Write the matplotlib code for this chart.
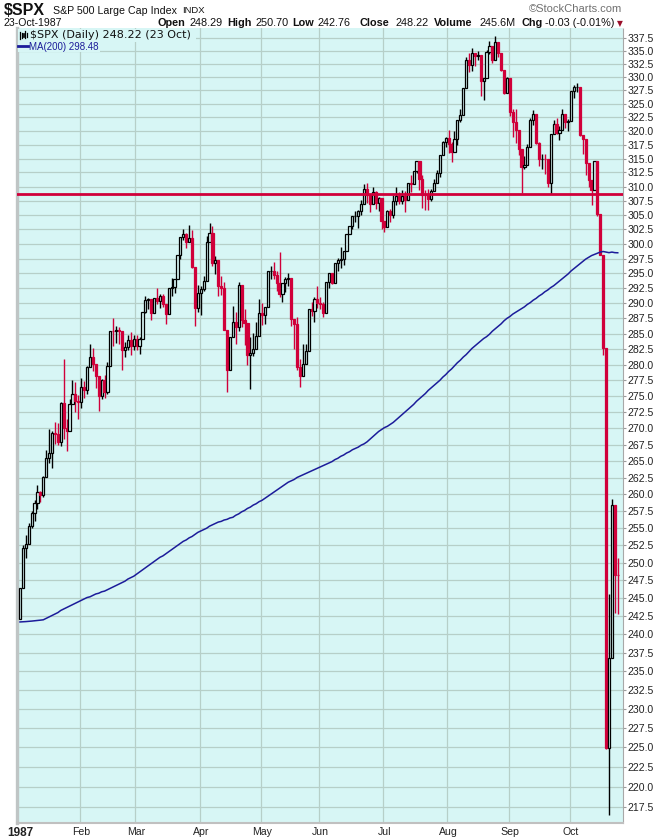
import matplotlib
matplotlib.use("Agg")
import matplotlib.pyplot as plt
from matplotlib.lines import Line2D
from matplotlib.patches import Rectangle
from matplotlib.ticker import FixedLocator, NullLocator
import numpy as np

# ---------------- data (S&P 500 daily, 2 Jan 1987 - 23 Oct 1987) ----------------
closes = [
    246.45, 252.19, 252.78, 255.33, 257.28, 258.73, 260.30, 259.95, 262.64, 265.49,
    266.28, 269.34, 269.04, 267.84, 273.91, 270.10, 269.61, 273.75, 275.40, 274.24,
    274.08,
    276.45, 275.99, 279.64, 281.16, 280.04, 278.16, 275.07, 277.54, 275.62, 279.70,
    285.49, 285.42, 285.57, 285.48, 282.38, 282.88, 284.00, 282.96, 284.20,
    283.00, 284.12, 288.62, 290.52, 290.66, 288.30, 290.86, 290.31, 291.22, 289.89,
    288.23, 292.47, 292.78, 294.08, 298.17, 301.16, 301.64, 300.38, 300.93, 296.13,
    289.20, 291.70,
    292.39, 293.63, 300.41, 301.95, 296.69, 297.26, 292.86, 292.49, 285.62, 279.16,
    284.44, 286.91, 286.09, 293.07, 287.19, 286.82, 281.52, 281.83, 282.51, 284.57,
    288.36,
    288.03, 289.36, 295.34, 295.47, 294.71, 293.37, 291.57, 293.30, 293.98, 294.24,
    287.43, 286.65, 279.62, 278.21, 280.17, 282.16, 289.11, 288.73, 290.76, 290.10,
    289.83, 288.46, 293.47, 295.09, 293.45, 296.72, 297.28, 297.47, 298.73, 301.62,
    303.14, 304.76, 304.81, 305.69, 306.97, 309.65, 308.43, 306.86, 308.96, 307.16,
    307.90, 304.00,
    302.94, 305.63, 304.92, 307.40, 308.29, 307.52, 308.37, 307.63, 310.68, 310.42,
    312.70, 314.59, 311.39, 308.55, 308.47, 307.81, 309.27, 310.65, 312.33, 315.65,
    318.05, 318.66,
    317.57, 316.23, 318.45, 322.10, 323.00, 328.00, 333.33, 332.39, 334.65, 333.99,
    334.11, 329.25, 329.83, 334.84, 335.90, 333.33, 336.77, 334.57, 331.38, 327.04,
    329.80,
    323.40, 321.68, 320.21, 316.70, 313.56, 313.92, 317.13, 321.98, 323.08, 317.74,
    314.86, 314.93, 314.86, 310.54, 319.50, 321.19, 319.72, 320.16, 323.20, 321.69,
    321.83,
    327.33, 328.07, 328.08, 319.22, 318.54, 314.16, 311.07, 309.39, 314.52, 305.23,
    298.08, 282.70, 224.84, 236.83, 258.38, 248.25, 248.22,
]

opens = [
    242.17, 246.45, 252.19, 252.78, 255.33, 257.28, 258.73, 260.30, 259.95, 262.64,
    265.49, 266.28, 269.34, 269.04, 267.84, 273.91, 270.10, 269.61, 273.75, 275.40,
    274.24,
    274.08, 276.45, 275.99, 279.64, 281.16, 280.04, 278.16, 275.07, 277.54, 275.62,
    279.70, 285.49, 285.42, 285.57, 285.48, 282.38, 282.88, 284.00, 282.96,
    284.20, 283.00, 284.12, 288.62, 290.52, 290.66, 288.30, 290.86, 290.31, 291.22,
    289.89, 288.23, 292.47, 292.78, 294.08, 298.17, 301.16, 301.64, 300.38, 300.93,
    296.13, 289.20,
    291.70, 292.39, 293.63, 300.41, 301.95, 296.69, 297.26, 292.86, 292.49, 285.62,
    279.16, 284.44, 286.91, 286.09, 293.07, 287.19, 286.82, 281.52, 281.83, 282.51,
    284.57,
    288.36, 288.03, 289.36, 295.34, 295.47, 294.71, 293.37, 291.57, 293.30, 293.98,
    294.24, 287.43, 286.65, 279.62, 278.21, 280.17, 282.16, 289.11, 288.73, 290.76,
    290.10, 289.83, 288.46, 293.47, 295.09, 293.45, 296.72, 297.28, 297.47, 298.73,
    301.62, 303.14, 304.76, 304.81, 305.69, 306.97, 309.65, 308.43, 306.86, 308.96,
    307.16, 307.90,
    304.00, 302.94, 305.63, 304.92, 307.40, 308.29, 307.52, 308.37, 307.63, 310.68,
    310.42, 312.70, 314.59, 311.39, 308.55, 308.47, 307.81, 309.27, 310.65, 312.33,
    315.65, 318.05,
    318.66, 317.57, 316.23, 318.45, 322.10, 323.00, 328.00, 333.33, 332.39, 334.65,
    333.99, 334.11, 329.25, 329.83, 334.84, 335.90, 333.33, 336.77, 334.57, 331.38,
    327.04,
    329.80, 323.40, 321.68, 320.21, 316.70, 313.56, 313.92, 317.13, 321.98, 323.08,
    317.74, 314.86, 314.93, 314.86, 310.54, 319.50, 321.19, 319.72, 320.16, 323.20,
    321.69,
    321.83, 327.33, 328.07, 328.08, 319.22, 318.54, 314.16, 311.07, 309.39, 314.52,
    305.23, 298.08, 282.70, 224.84, 236.83, 258.38, 248.29,
]

highs = [
    246.50, 252.57, 253.99, 255.72, 257.50, 259.20, 261.45, 260.45, 262.72, 266.68,
    269.86, 269.50, 271.03, 270.87, 274.05, 280.96, 271.50, 274.59, 277.55, 277.17,
    275.20,
    277.83, 277.35, 279.70, 283.33, 282.60, 280.04, 278.16, 277.72, 278.36, 280.35,
    285.49, 287.60, 286.24, 286.09, 285.48, 283.58, 284.80, 285.29, 284.83,
    284.83, 284.50, 288.62, 291.24, 290.94, 290.66, 290.86, 292.50, 291.59, 291.50,
    289.89, 292.47, 294.17, 294.08, 298.17, 301.17, 302.57, 301.86, 303.25, 302.34,
    296.13, 293.00,
    292.80, 294.47, 301.30, 303.65, 303.00, 297.95, 297.26, 294.61, 293.46, 285.62,
    284.44, 289.60, 288.50, 293.46, 293.07, 289.00, 286.82, 284.50, 285.16, 286.88,
    290.65,
    289.99, 289.36, 295.34, 296.19, 296.98, 295.40, 298.61, 293.30, 294.32, 295.09,
    294.24, 287.43, 287.68, 280.94, 283.33, 283.34, 289.11, 290.17, 291.00, 292.87,
    291.00, 290.28, 293.47, 295.11, 295.09, 296.72, 297.59, 299.49, 298.73, 301.62,
    303.14, 304.76, 305.65, 305.84, 307.63, 310.39, 310.60, 308.43, 309.99, 309.25,
    308.18, 307.90,
    304.00, 305.88, 306.00, 308.50, 309.84, 309.00, 309.30, 309.20, 310.68, 312.08,
    312.83, 314.59, 314.59, 312.00, 309.45, 309.55, 309.56, 311.28, 313.00, 315.65,
    318.24, 318.98,
    320.20, 317.99, 319.96, 322.10, 324.08, 328.00, 333.86, 334.57, 335.52, 334.65,
    335.00, 334.11, 329.83, 335.19, 336.95, 335.90, 337.89, 336.77, 334.57, 331.38,
    329.99,
    329.80, 324.00, 323.97, 320.21, 316.70, 315.41, 317.60, 322.45, 323.79, 323.08,
    318.00, 315.80, 315.90, 314.86, 319.50, 322.00, 322.40, 320.90, 324.00, 323.20,
    322.20,
    327.33, 328.57, 328.94, 328.08, 319.22, 318.54, 314.16, 311.07, 314.52, 314.52,
    305.23, 298.08, 282.70, 245.62, 259.27, 258.38, 250.70,
]

lows = [
    242.17, 246.45, 250.70, 252.65, 254.97, 256.11, 257.83, 258.90, 259.60, 262.64,
    264.76, 264.00, 267.65, 267.35, 267.32, 268.41, 266.50, 269.61, 273.75, 272.52,
    271.38,
    273.16, 274.65, 275.35, 279.64, 278.96, 276.26, 272.73, 274.49, 274.64, 275.35,
    279.70, 283.00, 283.54, 283.27, 279.20, 281.28, 282.30, 281.60, 282.30,
    282.30, 281.76, 284.12, 288.30, 288.99, 287.20, 288.30, 289.80, 289.14, 289.33,
    286.64, 288.23, 291.28, 291.70, 294.08, 297.50, 300.59, 299.37, 300.38, 295.92,
    286.24, 288.50,
    288.00, 292.00, 293.63, 300.41, 296.27, 294.85, 291.23, 291.42, 285.62, 275.67,
    279.16, 284.44, 283.30, 285.50, 286.06, 283.22, 280.00, 276.20, 281.31, 282.51,
    284.57,
    286.39, 286.50, 289.34, 294.05, 293.99, 292.07, 291.10, 290.13, 291.89, 292.91,
    286.20, 282.57, 279.16, 276.40, 278.21, 280.17, 282.16, 287.81, 286.89, 289.21,
    289.12, 287.65, 288.46, 292.57, 293.15, 293.45, 295.32, 295.96, 296.35, 298.73,
    301.62, 302.58, 303.80, 302.77, 305.00, 306.97, 307.10, 305.50, 306.86, 306.10,
    305.63, 302.60,
    302.00, 302.94, 303.85, 304.50, 306.70, 307.00, 306.87, 305.60, 307.63, 309.07,
    310.42, 312.38, 309.46, 306.20, 305.88, 305.92, 307.42, 309.27, 310.65, 311.68,
    315.65, 317.15,
    315.94, 314.40, 316.23, 317.49, 321.60, 322.95, 328.00, 331.05, 331.09, 332.02,
    333.28, 326.45, 325.64, 329.83, 334.35, 332.63, 333.33, 333.86, 331.10, 326.92,
    326.97,
    322.70, 318.86, 317.80, 315.60, 308.80, 313.10, 313.92, 317.13, 321.10, 317.60,
    313.60, 313.10, 312.20, 310.00, 308.60, 319.50, 319.40, 318.40, 320.16, 320.47,
    320.00,
    321.83, 326.09, 327.22, 319.17, 315.79, 312.00, 310.00, 306.70, 309.39, 304.78,
    298.07, 281.52, 224.83, 216.46, 236.83, 242.99, 242.76,
]

ma200 = [
    241.70, 241.72, 241.75, 241.78, 241.82, 241.86, 241.90, 241.95, 242.00, 242.20,
    242.40, 242.60, 242.80, 243.00, 243.30, 243.50, 243.70, 243.90, 244.10, 244.30,
    244.50, 244.70, 244.90, 245.10, 245.20, 245.40, 245.60, 245.70, 245.90, 246.00,
    246.20, 246.40, 246.60, 246.80, 247.00, 247.20, 247.40, 247.70, 247.90, 248.10,
    248.40, 248.70, 249.00, 249.30, 249.60, 249.90, 250.20, 250.50, 250.80, 251.00,
    251.30, 251.60, 251.90, 252.20, 252.50, 252.80, 253.10, 253.30, 253.60, 253.80,
    254.10, 254.40, 254.60, 254.80, 255.00, 255.30, 255.50, 255.70, 255.90, 256.00,
    256.20, 256.30, 256.50, 256.60, 256.90, 257.10, 257.40, 257.60, 257.90, 258.10,
    258.40, 258.60, 258.90, 259.10, 259.40, 259.70, 260.00, 260.30, 260.60, 260.90,
    261.20, 261.50, 261.80, 262.00, 262.20, 262.50, 262.70, 262.90, 263.10, 263.30,
    263.50, 263.70, 263.90, 264.10, 264.30, 264.50, 264.70, 264.90, 265.20, 265.40,
    265.70, 265.90, 266.20, 266.40, 266.70, 266.90, 267.10, 267.40, 267.60, 267.90,
    268.30, 268.70, 269.10, 269.50, 269.80, 270.10, 270.30, 270.60, 270.90, 271.30,
    271.70, 272.10, 272.50, 272.90, 273.30, 273.70, 274.20, 274.60, 275.00, 275.40,
    275.90, 276.30, 276.70, 277.10, 277.50, 278.00, 278.40, 278.90, 279.30, 279.80,
    280.30, 280.70, 281.20, 281.60, 282.10, 282.60, 283.00, 283.40, 283.80, 284.20,
    284.50, 284.90, 285.40, 285.80, 286.20, 286.60, 287.10, 287.50, 287.80, 288.20,
    288.50, 288.80, 289.10, 289.40, 289.80, 290.10, 290.50, 290.80, 291.20, 291.50,
    291.90, 292.20, 292.60, 292.90, 293.30, 293.70, 294.10, 294.50, 294.90, 295.40,
    295.80, 296.20, 296.60, 297.00, 297.40, 297.70, 298.00, 298.20, 298.40, 298.60,
    298.70, 298.60, 298.50, 298.60, 298.50, 298.48,
]

month_starts = [0, 21, 40, 62, 83, 103, 125, 147, 168, 189]
month_labels = ["1987", "Feb", "Mar", "Apr", "May", "Jun", "Jul", "Aug", "Sep", "Oct"]
support_level = 308.7

header_keys = ["Open", "High", "Low", "Close", "Volume", "Chg"]
header_vals = ["248.29", "250.70", "242.76", "248.22", "245.6M", "-0.03 (-0.01%)"]

# ---------------- styling ----------------
BG = "#d7f6f5"
GRID = "#b6cfc8"
RED = "#d0003a"
NAVY = "#1c1c9a"
W, H = 670, 838


def fx(x):
    return x / W


def fy(y):
    return 1 - y / H


fig = plt.figure(figsize=(W / 100, H / 100), dpi=100)
fig.patch.set_facecolor("white")

left, right, top, bottom = 16.7, 623.0, 28.0, 822.7
ax = fig.add_axes([fx(left), fy(bottom), (right - left) / W, (bottom - top) / H])
ax.set_facecolor(BG)

n = len(closes)
x = np.arange(n)
o = np.array(opens)
c = np.array(closes)
hi = np.array(highs)
lo = np.array(lows)
prev = np.concatenate([[o[0]], c[:-1]])

colors = ["black" if ci >= pi else RED for ci, pi in zip(c, prev)]
faces = [col if ci < oi else BG for col, ci, oi in zip(colors, c, o)]

ax.set_yscale("log")
ax.set_ylim(215.5, 339.4)
ax.set_xlim(-1.13, 206.8)

# grid
yt = np.arange(217.5, 339.0, 2.5)
ax.yaxis.set_major_locator(FixedLocator(yt))
ax.yaxis.set_minor_locator(NullLocator())
ax.set_yticklabels([f"{v:.1f}" for v in yt])
ax.grid(axis="y", which="major", color=GRID, lw=0.9, zorder=0.5)
for ms in month_starts[1:]:
    ax.axvline(ms - 0.4, color=GRID, lw=0.9, zorder=0.5)

# candles
ax.vlines(x, lo, hi, colors=colors, lw=1.0, zorder=3)
bottoms = np.minimum(o, c)
heights = np.abs(c - o)
ax.bar(x, heights, bottom=bottoms, width=0.74, color=faces, edgecolor=colors,
       linewidth=0.9, zorder=4)

# moving average and horizontal support line
ax.plot(x, ma200, color=NAVY, lw=1.1, zorder=5)
ax.axhline(support_level, color=RED, lw=2.0, zorder=6)

# axes styling
ax.yaxis.tick_right()
ax.tick_params(axis="y", which="major", length=2, width=0.8, color="#9a9a9a",
               pad=1.5, labelsize=7.6, labelcolor="#222222")
for lab in ax.get_yticklabels():
    lab.set_family("Liberation Sans")
ax.set_xticks(month_starts)
ax.set_xticklabels(month_labels)
ax.tick_params(axis="x", length=0, pad=3, labelsize=7.6, labelcolor="#222222")
for i, lab in enumerate(ax.get_xticklabels()):
    lab.set_family("Liberation Sans")
    if i == 0:
        lab.set_fontweight("bold")
        lab.set_fontsize(8.5)

ax.spines["top"].set_visible(False)
ax.spines["left"].set_color("#bfc5c5")
ax.spines["left"].set_linewidth(2.4)
ax.spines["bottom"].set_color("#c0c0c0")
ax.spines["bottom"].set_linewidth(1.5)
ax.spines["right"].set_color("#a8a8a8")
ax.spines["right"].set_linewidth(0.8)
ax.spines["right"].set_linestyle((0, (1, 1)))

# legend background boxes (hide grid under legend text)
fig.add_artist(Rectangle((fx(18), fy(42)), (196 - 18) / W, 13 / H, facecolor=BG,
                         edgecolor="none", zorder=7, transform=fig.transFigure))
fig.add_artist(Rectangle((fx(18), fy(52.5)), (100 - 18) / W, 11 / H, facecolor=BG,
                         edgecolor="none", zorder=7, transform=fig.transFigure))

# legend icon (tiny candles)
for xx, y0, y1 in [(19.5, 32, 39), (21.5, 33, 38), (24.5, 31.5, 38.5), (26.5, 33, 37.5)]:
    fig.add_artist(Line2D([fx(xx), fx(xx)], [fy(y0), fy(y1)], color="black", lw=0.9,
                          transform=fig.transFigure, zorder=8))
fig.add_artist(Rectangle((fx(22.5), fy(37.5)), 1.5 / W, 4 / H, facecolor="black",
                         edgecolor="black", lw=0.5, transform=fig.transFigure, zorder=8))
fig.text(fx(30), fy(35.5), "$SPX (Daily) 248.22 (23 Oct)", fontsize=8.0,
         family="DejaVu Sans", color="#111111", va="center", ha="left", zorder=9)
fig.add_artist(Line2D([fx(17.5), fx(28)], [fy(46.5), fy(46.5)], color=NAVY, lw=2.0,
                      transform=fig.transFigure, zorder=8))
fig.text(fx(29.5), fy(46.5), "MA(200) 298.48", fontsize=7.0,
         family="Liberation Sans", color=NAVY, va="center", ha="left", zorder=9)

# header
fig.text(fx(4), fy(10.5), "$SPX", fontsize=11.5, fontweight="bold",
         family="Liberation Sans", va="center", ha="left", color="#111111")
fig.text(fx(53), fy(10.5), "S&P 500 Large Cap Index", fontsize=7.7,
         family="Liberation Sans", va="center", ha="left", color="#111111")
fig.text(fx(182), fy(10.5), "INDX", fontsize=6.8,
         family="Liberation Sans", va="center", ha="left", color="#111111")
fig.text(fx(622), fy(8.5), "\u00a9StockCharts.com", fontsize=8.0,
         family="Liberation Sans", va="center", ha="right", color="#707070")
fig.text(fx(3), fy(23), "23-Oct-1987", fontsize=7.6,
         family="Liberation Sans", va="center", ha="left", color="#111111")

label_x = [157, 227, 292, 360, 434, 522]
value_x = [189, 256, 318, 395, 480, 545]
for key, val, lx, vx in zip(header_keys, header_vals, label_x, value_x):
    fig.text(fx(lx), fy(23), key, fontsize=7.8, fontweight="bold",
             family="Liberation Sans", va="center", ha="left", color="#111111")
    fig.text(fx(vx), fy(23), val, fontsize=7.8,
             family="Liberation Sans", va="center", ha="left", color="#111111")
fig.text(fx(619.5), fy(23.5), "\u25bc", fontsize=5.5, family="DejaVu Sans",
         va="center", ha="center", color="#9a0f2a")

fig.savefig("out.png", dpi=100, facecolor="white")
